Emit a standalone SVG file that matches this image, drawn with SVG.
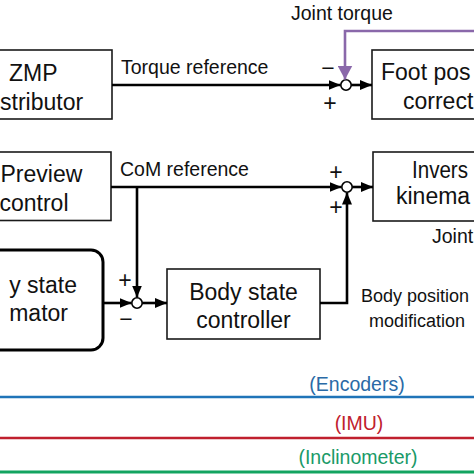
<svg xmlns="http://www.w3.org/2000/svg" width="474" height="474" viewBox="0 0 474 474">
<defs>
<style>
.box{fill:#fff;stroke:#1a1a1a;stroke-width:1.6}
.bt{font-family:"Liberation Sans",Arial,sans-serif;font-size:23px;fill:#111}
.lb{font-family:"Liberation Sans",Arial,sans-serif;font-size:19.5px;fill:#111}
.sm{font-family:"Liberation Sans",Arial,sans-serif;font-size:18px;fill:#111}
.sg{font-family:"Liberation Sans",Arial,sans-serif;font-size:23px;fill:#111;text-anchor:middle}
.ln{fill:none;stroke:#000;stroke-width:2.6}
.sum{fill:#fff;stroke:#000;stroke-width:1.6}
</style>
<marker id="ah" viewBox="0 0 12 10" refX="12" refY="5" markerWidth="12" markerHeight="10" markerUnits="userSpaceOnUse" orient="auto">
<path d="M0,0 L12,5 L0,10 Z" fill="#000"/>
</marker>
<marker id="ahp" viewBox="0 0 14 15" refX="14" refY="7.5" markerWidth="14" markerHeight="15" markerUnits="userSpaceOnUse" orient="auto">
<path d="M0,0 L14,7.5 L0,15 Z" fill="#8a68aa"/>
</marker>
</defs>
<rect width="474" height="474" fill="#fff"/>

<g id="zmp">
<rect class="box" x="-20" y="50" width="132" height="69"/>
<text class="bt" x="9" y="81">ZMP</text>
<text class="bt" x="0" y="110">stributor</text>
</g>
<g id="preview">
<rect class="box" x="-20" y="152" width="131" height="68.5"/>
<text class="bt" x="0.5" y="182">Preview</text>
<text class="bt" x="34" y="211" text-anchor="middle">control</text>
</g>
<g id="estimator">
<rect x="-60" y="250" width="163" height="100" rx="12" fill="#fff" stroke="#000" stroke-width="3"/>
<text class="bt" x="77" y="293" text-anchor="end">y state</text>
<text class="bt" x="68" y="321" text-anchor="end">mator</text>
</g>
<g id="controller">
<rect class="box" x="167" y="269" width="153" height="70"/>
<text class="bt" x="243.5" y="300" text-anchor="middle">Body state</text>
<text class="bt" x="243.5" y="328" text-anchor="middle">controller</text>
</g>
<g id="foot">
<rect class="box" x="372" y="50" width="130" height="69"/>
<text class="bt" x="381" y="80">Foot pos</text>
<text class="bt" x="403" y="109">correct</text>
</g>
<g id="ik">
<rect class="box" x="373" y="152" width="130" height="69"/>
<text class="bt" x="412" y="178" textLength="56" lengthAdjust="spacingAndGlyphs">Invers</text>
<text class="bt" x="396" y="204">kinema</text>
</g>
<g id="sum1"><circle class="sum" cx="346" cy="85" r="5.2"/></g>
<g id="sum2"><circle class="sum" cx="347" cy="187" r="5.2"/></g>
<g id="sum3"><circle class="sum" cx="137" cy="303" r="5.2"/></g>

<g id="connectors">
<path class="ln" d="M112,85 H340.5" marker-end="url(#ah)"/>
<path class="ln" d="M351.2,85 H372" marker-end="url(#ah)"/>
<path d="M474,31 H345 V79.5" fill="none" stroke="#8a68aa" stroke-width="2.6" marker-end="url(#ahp)"/>
<path class="ln" d="M111,187 H341.5" marker-end="url(#ah)"/>
<path class="ln" d="M352.2,187 H373" marker-end="url(#ah)"/>
<path class="ln" d="M137,187 V297.5" marker-end="url(#ah)"/>
<path class="ln" d="M103,303 H131.5" marker-end="url(#ah)"/>
<path class="ln" d="M142.2,303 H167" marker-end="url(#ah)"/>
<path class="ln" d="M320,303 H347 V192.5" marker-end="url(#ah)"/>
</g>

<g id="labels">
<text class="lb" x="121" y="74">Torque reference</text>
<text class="lb" x="291" y="20">Joint torque</text>
<text class="lb" x="120" y="176">CoM reference</text>
<text class="lb" x="432" y="243">Joint</text>
<text class="sm" x="361" y="302">Body position</text>
<text class="sm" x="369" y="327">modification</text>
<text class="sg" x="328" y="76">−</text>
<text class="sg" x="330" y="111">+</text>
<text class="sg" x="336" y="180">+</text>
<text class="sg" x="336" y="215">+</text>
<text class="sg" x="125" y="288">+</text>
<text class="sg" x="126" y="327">−</text>
</g>

<g id="sensors">
<line x1="0" y1="397" x2="474" y2="397" stroke="#1f74b8" stroke-width="2.6"/>
<text class="lb" x="357" y="391" text-anchor="middle" style="fill:#2a6aa6">(Encoders)</text>
<line x1="0" y1="438" x2="474" y2="438" stroke="#c0202e" stroke-width="2.6"/>
<text class="lb" x="359" y="430" text-anchor="middle" style="fill:#c0202e">(IMU)</text>
<line x1="0" y1="472" x2="474" y2="472" stroke="#12a460" stroke-width="3.2"/>
<text class="lb" x="358" y="464" text-anchor="middle" style="fill:#1a9a68">(Inclinometer)</text>
</g>
</svg>
